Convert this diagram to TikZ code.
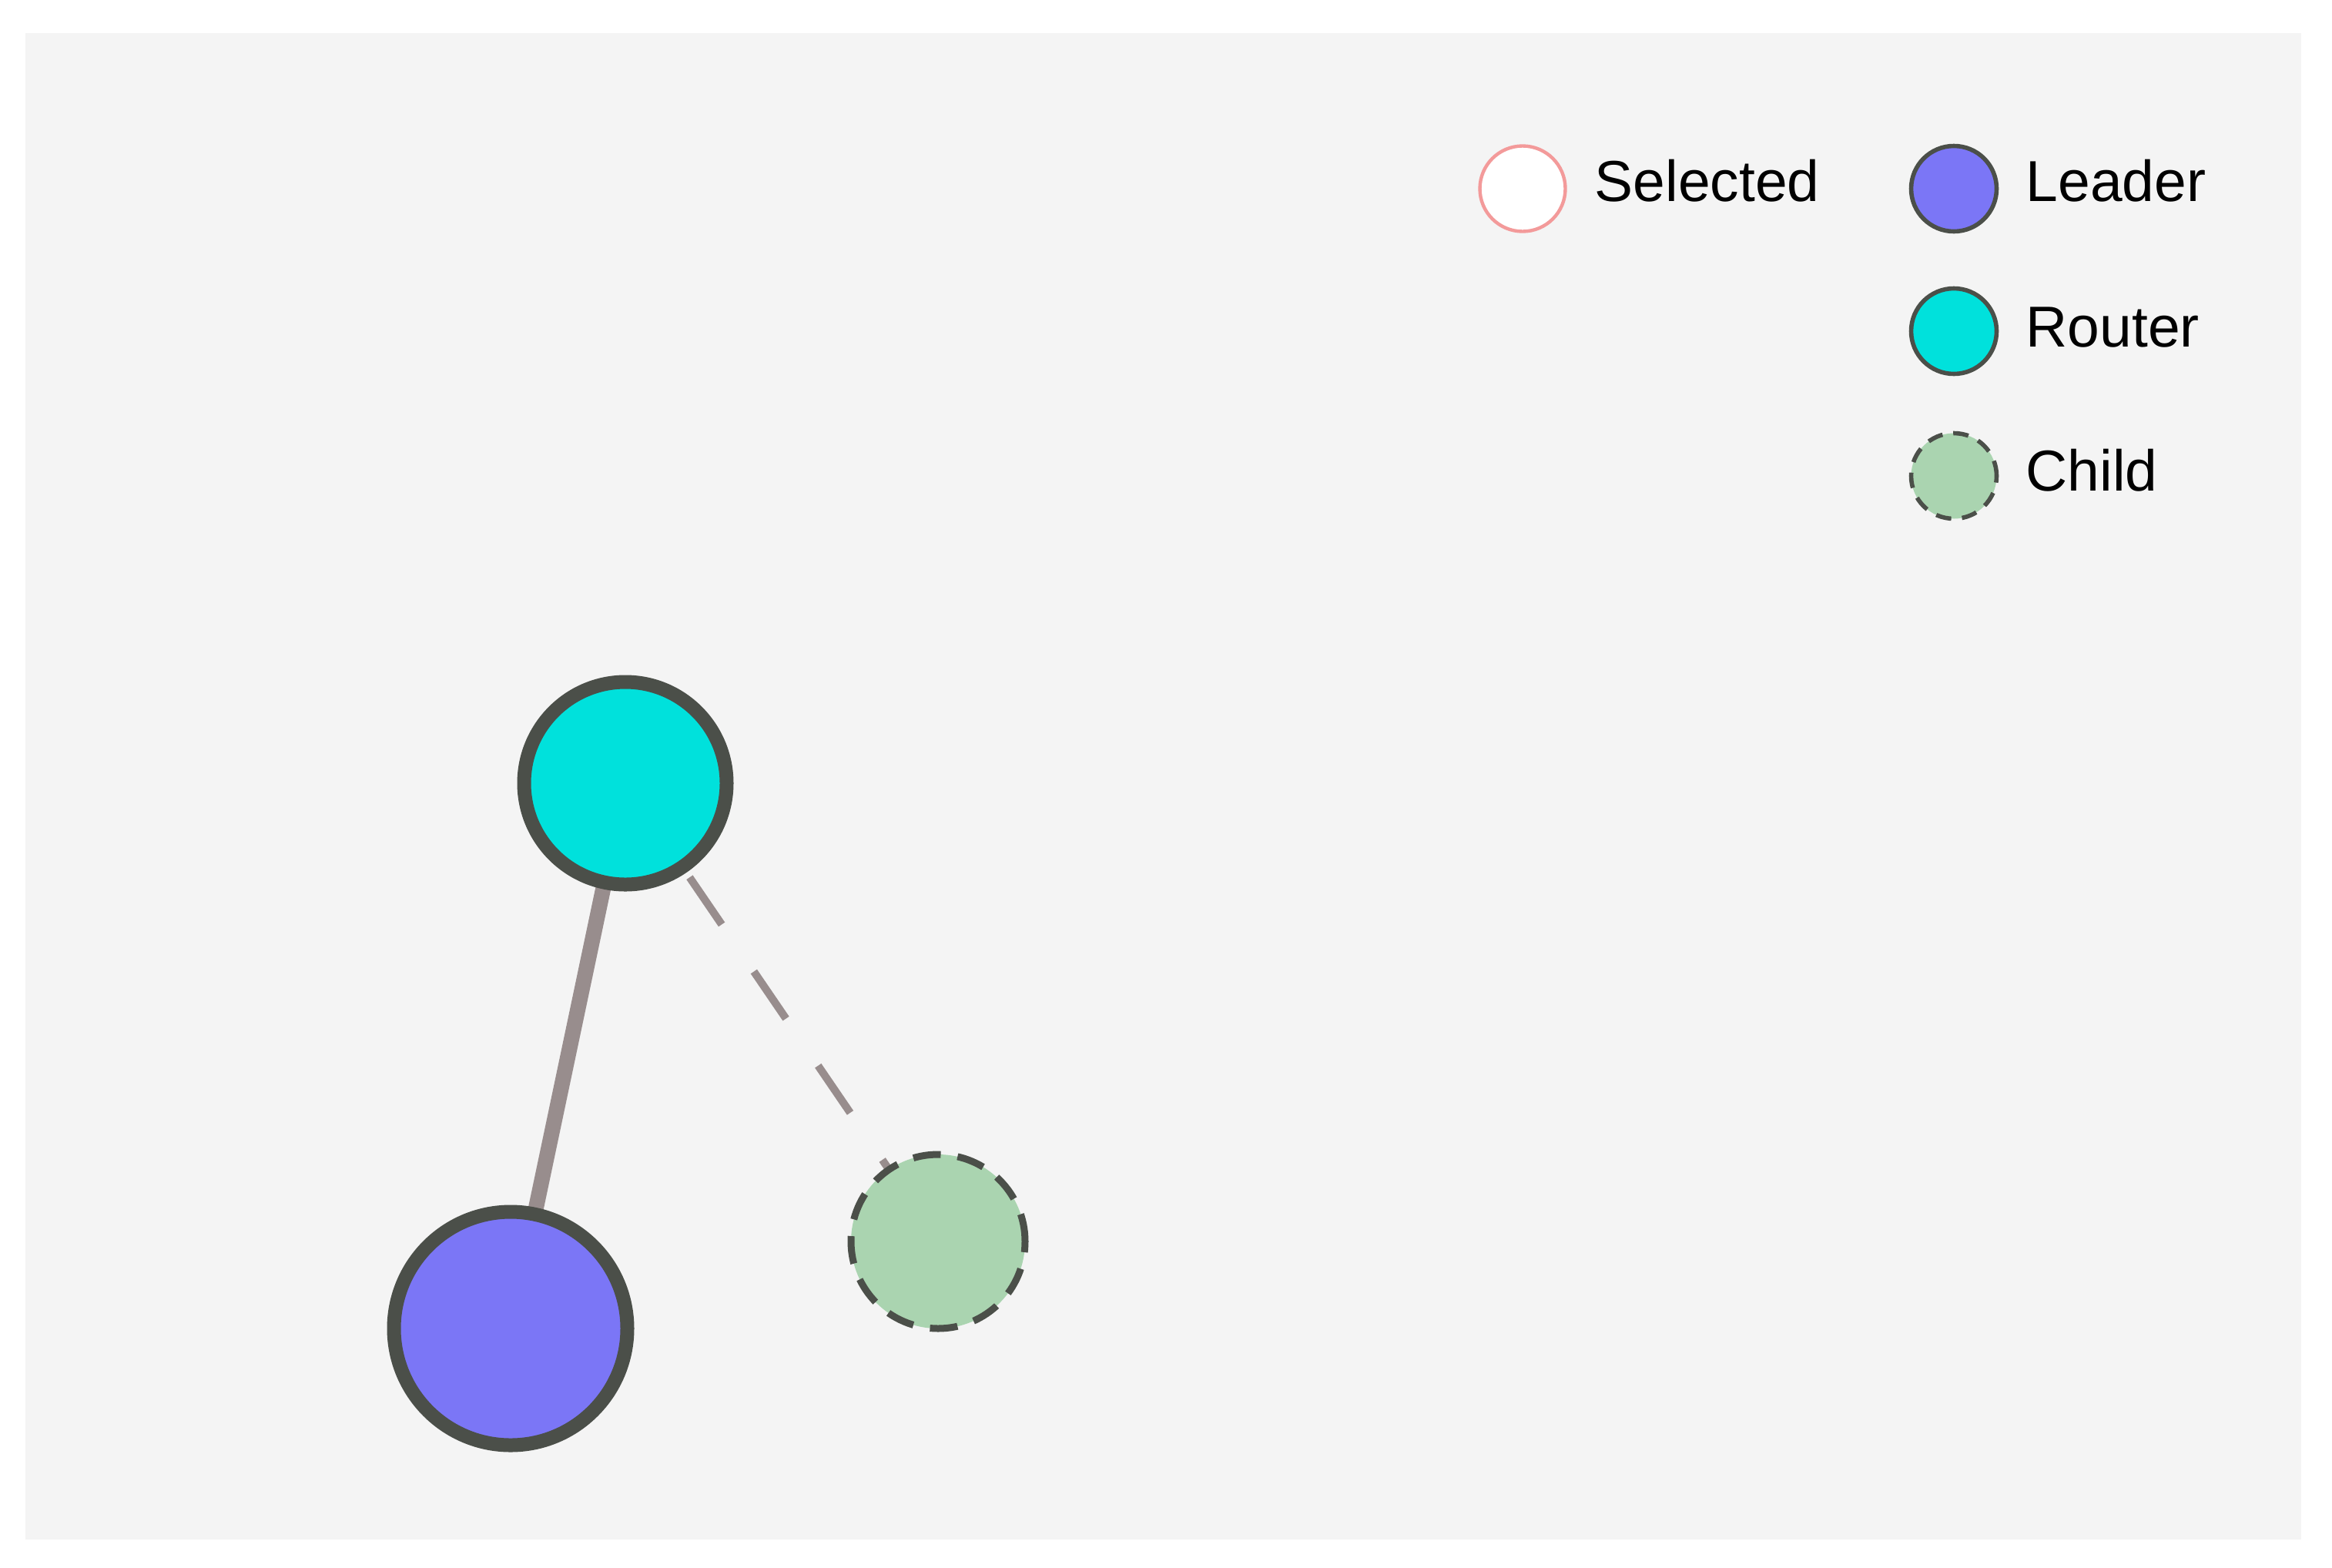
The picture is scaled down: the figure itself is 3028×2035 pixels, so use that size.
\documentclass[tikz,border=0pt]{standalone}
\usepackage{fontspec}
\setmainfont{Liberation Sans}
\usetikzlibrary{backgrounds}
\definecolor{bggray}{HTML}{F4F4F4}
\definecolor{nodestroke}{HTML}{4B4F49}
\definecolor{routerfill}{HTML}{00E1DC}
\definecolor{leaderfill}{HTML}{7B76F6}
\definecolor{childfill}{HTML}{AAD4B0}
\definecolor{selstroke}{HTML}{F39A9A}
\definecolor{edgegray}{HTML}{988D8D}
\pgfdeclarelayer{edgelayer}
\pgfsetlayers{background,edgelayer,main}
\tikzset{
  bignode/.style={circle, inner sep=0pt, draw=nodestroke, line width=4.5pt},
  childnode/.style={circle, inner sep=0pt, draw=nodestroke, fill=childfill, line width=2.25pt, dash pattern=on 9pt off 5.5pt, minimum size=56.5pt},
  legnode/.style={circle, inner sep=0pt, draw=nodestroke, line width=1.4pt, minimum size=27.75pt},
  legtext/.style={anchor=base west, inner sep=0pt, font=\fontsize{18.75pt}{22pt}\selectfont, text=black},
  solidedge/.style={draw=edgegray, line width=5pt},
  dashedge/.style={draw=edgegray, line width=2.5pt, dash pattern=on 18.5pt off 18.5pt},
}
\begin{document}
\begin{tikzpicture}[x=0.25pt, y=-0.25pt]
\useasboundingbox (0,0) rectangle (3028,2035);
\begin{pgfonlayer}{background}
\fill[bggray] (33,43) rectangle (2988,1999);
\end{pgfonlayer}
% graph nodes
\node[bignode, fill=routerfill, minimum size=65.75pt] (router) at (812,1017) {};
\node[bignode, fill=leaderfill, minimum size=75.75pt] (leader) at (663,1725) {};
\node[childnode] (child) at (1218,1612) {};
% edges
\begin{pgfonlayer}{edgelayer}
\draw[solidedge] (router.center) -- (leader.center);
\draw[dashedge] (router.center) -- (child.center);
\end{pgfonlayer}
% legend
\node[legnode, draw=selstroke, line width=1.1pt, fill=white] (lsel) at (1977,245) {};
\node[legtext] (tsel) at (2070,261) {Selected};
\node[legnode, fill=leaderfill] (llead) at (2537,245) {};
\node[legtext] (tlead) at (2630,261) {Leader};
\node[legnode, fill=routerfill] (lrout) at (2537,430) {};
\node[legtext] (trout) at (2630,450) {Router};
\node[legnode, fill=childfill, dash pattern=on 5pt off 3.5pt] (lchild) at (2537,618) {};
\node[legtext] (tchild) at (2630,637) {Child};
\end{tikzpicture}
\end{document}
